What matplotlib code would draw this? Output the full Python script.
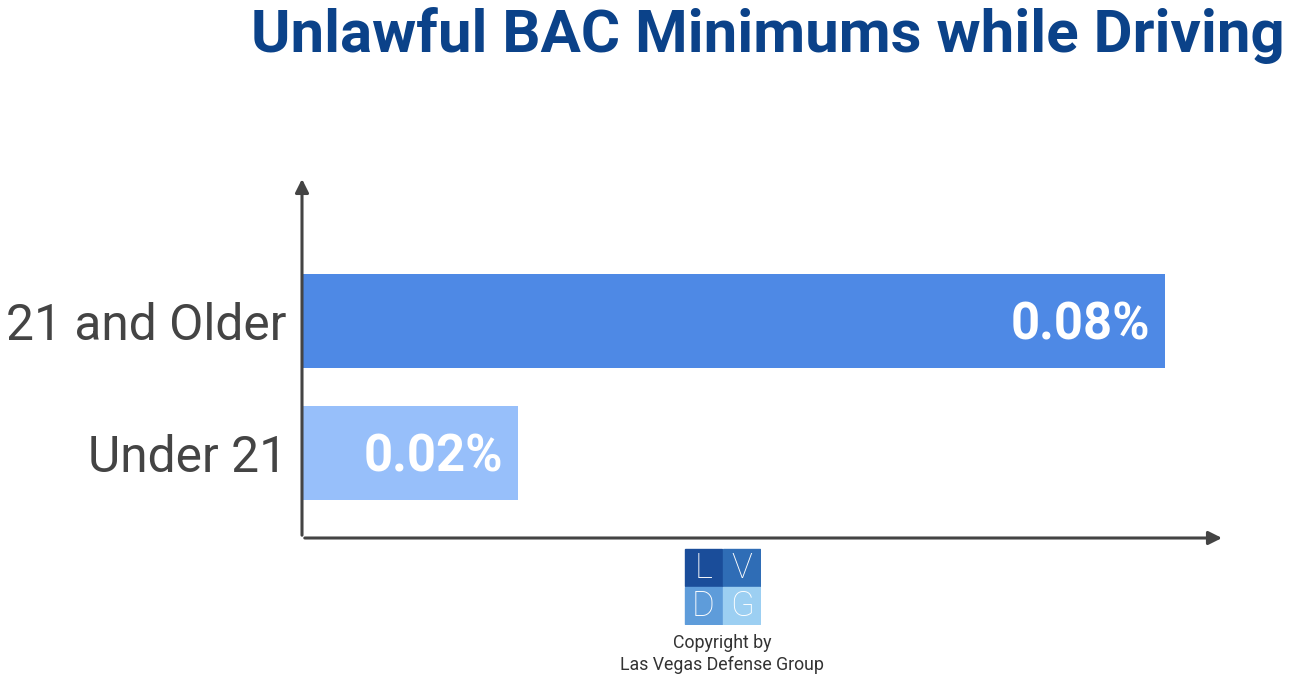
import matplotlib
matplotlib.use("Agg")
import matplotlib.pyplot as plt
from matplotlib.patches import Rectangle

categories = ["Under 21", "21 and Older"]
values = [0.02, 0.08]
value_labels = ["0.02%", "0.08%"]
bar_colors = ["#97bffa", "#4e89e5"]
title = "Unlawful BAC Minimums while Driving"
logo_letters = ["L", "V", "D", "G"]
logo_colors = ["#1a4d9a", "#2f6db6", "#5e9cda", "#9ccff2"]
credit = "Copyright by\nLas Vegas Defense Group"

W, H = 1292, 680
fig = plt.figure(figsize=(W / 100, H / 100), dpi=100)
fig.patch.set_facecolor("white")

def fx(px):
    return px / W

def fy(py):
    return 1 - py / H

# main axes: x 302..1222, y 178..538 (pixels)
ax = fig.add_axes([fx(302), fy(538), fx(1222) - fx(302), fy(178) - fy(538)])
xmax = 0.08 * 920 / 863
ax.set_xlim(0, xmax)
ax.set_ylim(-0.644, 2.083)
ypos = list(range(len(categories)))
ax.barh(ypos, values, height=0.712, color=bar_colors, zorder=2)
for s in ax.spines.values():
    s.set_visible(False)
ax.set_xticks([])
ax.set_yticks(ypos)
ax.set_yticklabels(categories, fontsize=35.8, color="#444444", family="Roboto")
ax.tick_params(axis="y", length=0, pad=11)

for y, v, lab in zip(ypos, values, value_labels):
    ax.text(v - 0.0014, y - 0.035, lab, ha="right", va="center", fontsize=36.5,
            fontweight="bold", color="white", family="Roboto", zorder=3)

arrow_kw = dict(arrowstyle="-|>,head_length=0.8,head_width=0.4", color="#444444", lw=2.2)
ax.annotate("", xy=(1.003, 0), xytext=(0, 0), xycoords="axes fraction",
            arrowprops=arrow_kw, annotation_clip=False)
ax.annotate("", xy=(0, 1.005), xytext=(0, 0), xycoords="axes fraction",
            arrowprops=arrow_kw, annotation_clip=False)

fig.text(fx(1285), fy(36), title, ha="right", va="center", fontsize=43.2,
         fontweight="bold", color="#0b4289", family="Roboto")

# logo
lax = fig.add_axes([fx(684), fy(625), fx(761) - fx(684), fy(548) - fy(625)])
lax.set_xlim(0, 2)
lax.set_ylim(0, 2)
lax.axis("off")
pos = [(0, 1), (1, 1), (0, 0), (1, 0)]
for (px_, py_), letter, col in zip(pos, logo_letters, logo_colors):
    lax.add_patch(Rectangle((px_ + 0.025, py_ + 0.025), 0.95, 0.95, color=col))
    lax.text(px_ + 0.5, py_ + 0.48, letter, ha="center", va="center",
             fontsize=25, color="white", family="Roboto", fontweight="light")

fig.text(fx(722), fy(654), credit, ha="center", va="center", fontsize=12.8,
         color="#333333", family="Roboto", linespacing=1.3)

fig.savefig("out.png", dpi=100, facecolor="white")
